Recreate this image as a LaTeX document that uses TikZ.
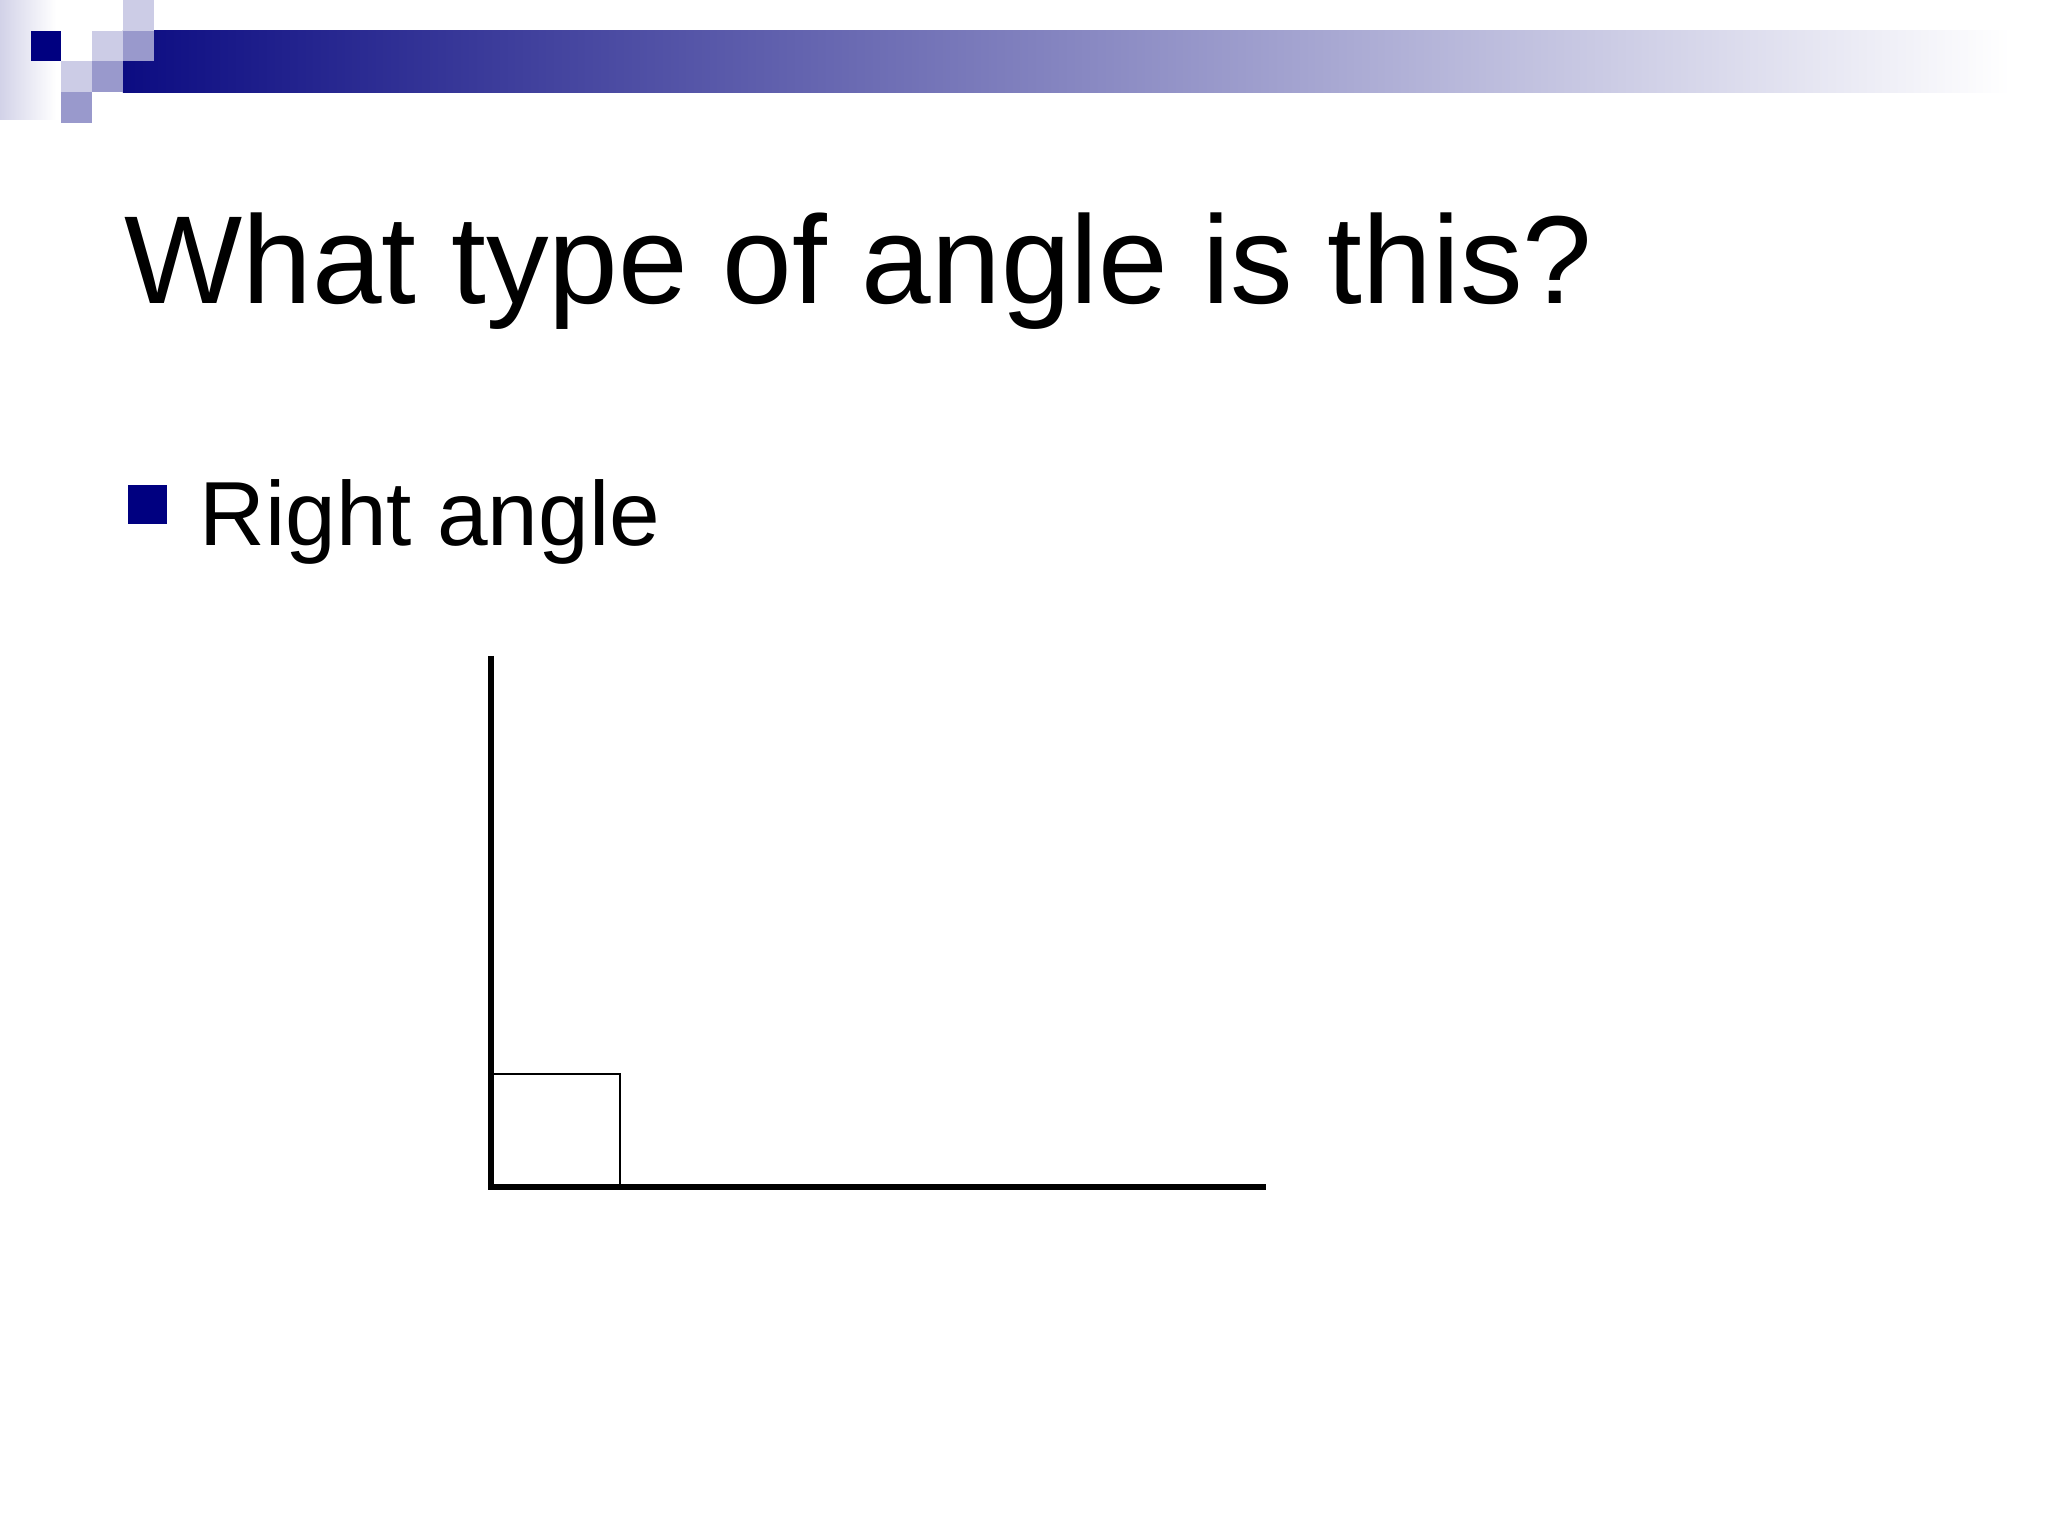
\documentclass[tikz,border=0pt]{standalone}
\usepackage{fontspec}
\setmainfont{Liberation Sans}
\definecolor{slNavy}{HTML}{000080}
\definecolor{slBanner}{HTML}{0C0C82}
\definecolor{slLight}{HTML}{CCCCE6}
\definecolor{slMed}{HTML}{9999CC}
\definecolor{slLav}{HTML}{D2D2E8}
\tikzset{
  sq/.style={inner sep=0pt, outer sep=0pt, minimum size=10.8pt, anchor=north west},
  bulletsq/.style={fill=slNavy, inner sep=0pt, minimum size=13.7pt},
  titletext/.style={anchor=base west, inner sep=0pt, font=\fontsize{44}{53}\selectfont},
  bodytext/.style={anchor=base west, inner sep=0pt, font=\fontsize{32}{38}\selectfont},
  rayline/.style={line width=2.1pt, line join=miter},
  markline/.style={line width=0.7pt},
}
\begin{document}
\begin{tikzpicture}[x=0.3515625pt,y=-0.3515625pt]
\useasboundingbox (0,0) rectangle (2048,1536);
\fill[white] (0,0) rectangle (2048,1536);
% decoration
\shade[left color=slLav, right color=white] (0,0) rectangle (56,120);
\shade[left color=slBanner, right color=white] (122.8,30.7) rectangle (2010,92.1);
\node[sq, fill=slLight] (s1) at (122.8,0) {};
\node[sq, fill=slNavy] (s2) at (30.7,30.7) {};
\node[sq, fill=slLight] (s3) at (92.1,30.7) {};
\node[sq, fill=slMed] (s4) at (122.8,30.7) {};
\node[sq, fill=slLight] (s5) at (61.4,61.4) {};
\node[sq, fill=slMed] (s6) at (92.1,61.4) {};
\node[sq, fill=slMed] (s7) at (61.4,92.1) {};
% texts
\node[titletext] (title) at (124,304) {What type of angle is this?};
\node[bulletsq] (bullet) at (147.5,504.5) {};
\node[bodytext] (item) at (199,546) {Right angle};
% angle
\coordinate (vtop) at (491,656);
\coordinate (corner) at (491,1187);
\coordinate (hend) at (1266,1187);
\coordinate (mtop) at (491,1074);
\coordinate (mcorner) at (620,1074);
\coordinate (mfoot) at (620,1187);
\draw[markline] (mtop) -- (mcorner) -- (mfoot);
\draw[rayline] (vtop) -- (corner) -- (hend);
\end{tikzpicture}
\end{document}
